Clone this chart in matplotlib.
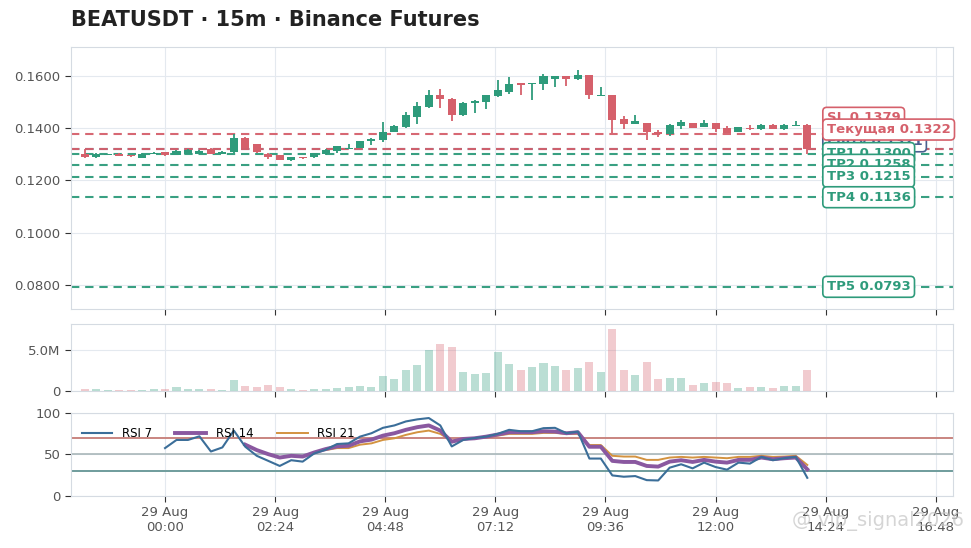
import numpy as np
import pandas as pd
import matplotlib
matplotlib.use("Agg")
matplotlib.rcParams["axes.unicode_minus"] = False
import matplotlib.pyplot as plt
import matplotlib.dates as mdates
from matplotlib.ticker import FuncFormatter

# --- data ---
start = "2025-08-28 22:15"
opens = [0.1303, 0.1291, 0.1299, 0.1303, 0.1296, 0.1288, 0.1303, 0.1309, 0.1298, 0.1303,
         0.1303, 0.1322, 0.1303, 0.1310, 0.1364, 0.1339, 0.1303, 0.1297, 0.1278, 0.1289,
         0.1290, 0.1300, 0.1313, 0.1321, 0.1326, 0.1351, 0.1354, 0.1386, 0.1405, 0.1443,
         0.1481, 0.1529, 0.1513, 0.1449, 0.1497, 0.1499, 0.1523, 0.1539, 0.1573, 0.1568,
         0.1568, 0.1590, 0.1599, 0.1587, 0.1602, 0.1525, 0.1528, 0.1437, 0.1418, 0.1421,
         0.1386, 0.1377, 0.1407, 0.1421, 0.1405, 0.1421, 0.1402, 0.1386, 0.1401, 0.1396,
         0.1414, 0.1399, 0.1409, 0.1414]
highs = [0.1322, 0.1304, 0.1303, 0.1305, 0.1298, 0.1304, 0.1310, 0.1310, 0.1316, 0.1319,
         0.1318, 0.1324, 0.1313, 0.1377, 0.1365, 0.1341, 0.1305, 0.1298, 0.1291, 0.1291,
         0.1307, 0.1320, 0.1333, 0.1341, 0.1352, 0.1361, 0.1424, 0.1411, 0.1462, 0.1500,
         0.1545, 0.1551, 0.1515, 0.1500, 0.1507, 0.1527, 0.1583, 0.1596, 0.1575, 0.1574,
         0.1609, 0.1601, 0.1600, 0.1622, 0.1603, 0.1558, 0.1529, 0.1446, 0.1449, 0.1422,
         0.1392, 0.1415, 0.1433, 0.1422, 0.1433, 0.1422, 0.1410, 0.1406, 0.1411, 0.1415,
         0.1415, 0.1416, 0.1426, 0.1415]
lows = [0.1288, 0.1285, 0.1297, 0.1292, 0.1289, 0.1287, 0.1302, 0.1295, 0.1296, 0.1301,
        0.1300, 0.1301, 0.1300, 0.1306, 0.1324, 0.1306, 0.1284, 0.1278, 0.1276, 0.1283,
        0.1288, 0.1298, 0.1305, 0.1320, 0.1325, 0.1335, 0.1347, 0.1384, 0.1402, 0.1417,
        0.1479, 0.1477, 0.1428, 0.1447, 0.1460, 0.1475, 0.1521, 0.1532, 0.1529, 0.1507,
        0.1545, 0.1558, 0.1560, 0.1585, 0.1511, 0.1524, 0.1382, 0.1399, 0.1417, 0.1356,
        0.1367, 0.1372, 0.1398, 0.1400, 0.1404, 0.1386, 0.1382, 0.1385, 0.1395, 0.1395,
        0.1397, 0.1393, 0.1408, 0.1303]
closes = [0.1290, 0.1302, 0.1301, 0.1293, 0.1293, 0.1303, 0.1307, 0.1296, 0.1312, 0.1316,
          0.1313, 0.1303, 0.1311, 0.1361, 0.1326, 0.1309, 0.1290, 0.1280, 0.1290, 0.1287,
          0.1305, 0.1318, 0.1331, 0.1326, 0.1351, 0.1360, 0.1386, 0.1407, 0.1449, 0.1484,
          0.1526, 0.1513, 0.1449, 0.1498, 0.1506, 0.1526, 0.1545, 0.1571, 0.1567, 0.1573,
          0.1599, 0.1599, 0.1590, 0.1602, 0.1526, 0.1528, 0.1430, 0.1418, 0.1427, 0.1386,
          0.1377, 0.1414, 0.1424, 0.1401, 0.1421, 0.1396, 0.1383, 0.1405, 0.1396, 0.1414,
          0.1398, 0.1411, 0.1414, 0.1322]
volumes_m = [0.24, 0.2, 0.1, 0.1, 0.1, 0.1, 0.2, 0.24, 0.45, 0.25, 0.2, 0.25, 0.08,
             1.35, 0.6, 0.5, 0.73, 0.45, 0.2, 0.1, 0.2, 0.2, 0.33, 0.45, 0.6, 0.45,
             1.83, 1.46, 2.56, 3.17, 5.0, 5.73, 5.33, 2.36, 2.07,
             2.15, 4.8, 3.3, 2.56, 2.9, 3.46, 3.09, 2.56, 2.85, 3.54, 2.36,
             7.64, 2.56, 1.95, 3.54, 1.46, 1.54, 1.63, 0.73, 1.02, 1.14, 1.02, 0.37,
             0.49, 0.49, 0.37, 0.65, 0.65, 2.56]

# RSI series start at candle 7, 14 and 21
rsi7 = [57.7, 67.5, 67.5, 71.9, 53.6, 58.5, 78.8, 59.3, 48.4, 42.3, 36.2, 43.1, 41.4, 51.2,
        55.7, 62.6, 63.4, 71.5, 75.6, 82.1, 85.0, 89.8, 92.3, 93.9, 85.0, 59.7, 67.5, 69.9,
        71.5, 74.8, 79.7, 78.0, 78.0, 81.7, 82.1, 75.6, 77.6, 45.1, 45.1, 24.8, 23.2, 24.0,
        19.1, 18.7, 34.1, 38.2, 33.3, 40.2, 34.9, 31.7, 40.2, 39.0, 47.1, 43.1, 45.5, 47.1,
        21.9]
rsi14 = [61.8, 55.3, 50.4, 46.3, 48.4, 47.5, 52.4, 56.5, 59.7, 60.5, 65.8, 67.9, 72.7, 75.6,
         79.7, 82.9, 85.0, 78.8, 65.4, 68.7, 69.5, 71.5, 74.0, 76.8, 76.8, 76.8, 78.0, 77.6,
         75.6, 76.8, 59.3, 59.3, 42.3, 41.0, 41.0, 36.2, 35.4, 41.4, 43.1, 41.0, 43.5, 41.4,
         40.2, 43.5, 43.5, 46.3, 44.3, 45.5, 46.3, 32.1]
rsi21 = [55.3, 57.7, 57.7, 61.8, 63.4, 67.5, 69.5, 73.6, 76.8, 78.8, 74.8, 66.6, 68.7, 69.5,
         70.7, 72.7, 74.8, 74.8, 74.8, 76.0, 76.0, 74.8, 74.8, 61.4, 61.4, 48.4, 47.5, 47.5,
         43.5, 43.5, 46.3, 47.1, 46.3, 47.1, 46.3, 45.5, 47.1, 47.1, 48.4, 47.1, 47.5, 48.4,
         37.4]

# price levels: (label, value, kind)
levels = [
    ("SL", 0.1379, "sl"),
    ("Entry", 0.1321, "entry"),
    ("TP1", 0.1300, "tp"),
    ("TP2", 0.1258, "tp"),
    ("TP3", 0.1215, "tp"),
    ("TP4", 0.1136, "tp"),
    ("TP5", 0.0793, "tp"),
]
current_label = "Текущая"
current_price = 0.1322

UP = "#2e9b7b"
DOWN = "#d5606b"
ENTRY = "#4a5f8f"
COLORS = {"sl": DOWN, "entry": ENTRY, "tp": UP, "cur": DOWN}
GRID = "#e4e9ef"
SPINE = "#d5dbe2"
TXT = "#555555"


def _style(ax):
    ax.set_facecolor("white")
    ax.grid(True, color=GRID, lw=0.8)
    ax.set_axisbelow(True)
    for s in ax.spines.values():
        s.set_color(SPINE)
    ax.tick_params(colors=TXT, labelsize=9.5, length=4, direction="out")
    ax.tick_params(axis="both", color="#333333")


times = pd.date_range(start, periods=len(closes), freq="15min")
x = mdates.date2num(times.to_pydatetime())
dt = x[1] - x[0]
o = np.array(opens)
c = np.array(closes)
up = c >= o
col = np.where(up, UP, DOWN)

fig = plt.figure(figsize=(9.71, 5.48), dpi=100)
ax = fig.add_axes([0.0731, 0.4361, 0.9083, 0.4781])
axv = fig.add_axes([0.0731, 0.2865, 0.9083, 0.1223], sharex=ax)
axr = fig.add_axes([0.0731, 0.0949, 0.9083, 0.1515], sharex=ax)
for a in (ax, axv, axr):
    _style(a)

# candles
ax.vlines(x, lows, highs, colors=col, lw=1.3, zorder=3)
body = np.maximum(np.abs(c - o), 0.00012)
ax.bar(x, body, bottom=np.minimum(o, c), width=dt * 0.7, color=col, zorder=4)

# level lines + boxed labels, pushed apart so they do not overlap too much
dash = (0, (4, 2.8))
all_levels = levels + [(current_label, current_price, "cur")]
for name, val, kind in all_levels:
    ax.axhline(val, color=COLORS[kind], ls=dash, lw=1.5, alpha=0.95, zorder=2)

gap = 0.0045
order = sorted(all_levels, key=lambda t: t[1])
label_y = {}
prev = -1.0
for name, val, kind in order:
    yy = max(val, prev + gap)
    label_y[name] = yy
    prev = yy

x_lab = x[-1] + dt * 1.7
draw_order = ["SL", "Entry", "TP1", "TP2", "TP3", "TP4", "TP5", current_label]
lookup = {n: (v, k) for n, v, k in all_levels}
for z, name in enumerate(draw_order):
    val, kind = lookup[name]
    ax.text(x_lab, label_y[name], f"{name} {val:.4f}", color=COLORS[kind],
            fontsize=9.5, fontweight="bold", va="center", ha="left", zorder=10 + z,
            bbox=dict(boxstyle="round,pad=0.3", fc="white", ec=COLORS[kind], lw=1.2))

ax.set_ylim(0.0708, 0.1711)
ax.set_yticks([0.08, 0.10, 0.12, 0.14, 0.16])
ax.yaxis.set_major_formatter(FuncFormatter(lambda v, p: f"{v:.4f}"))

# volume
vol = np.array(volumes_m) * 1e6
axv.bar(x, vol, width=dt * 0.7, color=col, alpha=0.32, zorder=3)
axv.set_ylim(0, 8.2e6)
axv.set_yticks([0, 5e6])
axv.yaxis.set_major_formatter(FuncFormatter(lambda v, p: "0" if v == 0 else f"{v / 1e6:.1f}M"))

# RSI
axr.axhline(70, color="#c98580", lw=1.4, zorder=2)
axr.axhline(50, color="#a9b7b9", lw=1.2, zorder=2)
axr.axhline(30, color="#6f9c9c", lw=1.4, zorder=2)
axr.plot(x[7:], rsi7, color="#3b6e99", lw=1.5, label="RSI 7", zorder=5)
axr.plot(x[14:], rsi14, color="#8a58a0", lw=2.8, label="RSI 14", zorder=4)
axr.plot(x[21:], rsi21, color="#d39340", lw=1.4, label="RSI 21", zorder=3)
axr.set_ylim(0, 100)
axr.set_yticks([0, 50, 100])
axr.legend(loc="upper left", ncol=3, frameon=False, fontsize=8.5,
           bbox_to_anchor=(0.0, 0.96), handlelength=2.6, columnspacing=2.0)

ticks = mdates.date2num(pd.date_range("2025-08-29 00:00", periods=8, freq="144min").to_pydatetime())
axr.set_xticks(ticks)
axr.xaxis.set_major_formatter(mdates.DateFormatter("%d %b\n%H:%M"))
axr.set_xlim(x[0] - dt * 1.2, x[-1] + dt * 12.7)
plt.setp(ax.get_xticklabels(), visible=False)
plt.setp(axv.get_xticklabels(), visible=False)

fig.text(0.0731, 1 - 20 / 548, "BEATUSDT · 15m · Binance Futures", fontsize=15,
         fontweight="bold", color="#222222", va="center", ha="left")
# faint watermark, bottom right
fig.text(0.993, 1 - 521 / 548, "@ vip_signal2026", fontsize=14, color="#c8c8c8",
         alpha=0.75, va="center", ha="right", zorder=0)

fig.savefig("out.png", dpi=100, facecolor="white")
plt.close(fig)
